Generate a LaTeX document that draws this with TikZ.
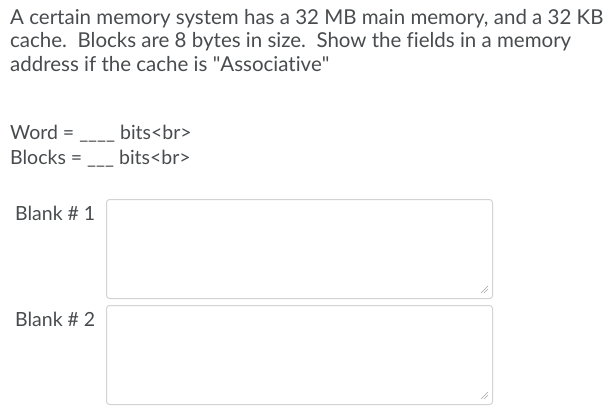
\documentclass[tikz,border=0pt]{standalone}
\usepackage{fontspec}
\setmainfont[Ligatures={NoCommon,TeX}]{Lato}
\definecolor{txt}{HTML}{494C4E}
\definecolor{bord}{HTML}{D3D3D3}
\begin{document}
\begin{tikzpicture}[x=1pt,y=-1pt,
  t/.style={anchor=base west,inner sep=0pt,text=txt,font=\fontsize{20.5}{24}\selectfont},
  s/.style={anchor=base west,inner sep=0pt,text=txt,font=\fontsize{19.5}{22}\selectfont},
  box/.style={draw=bord,line width=1pt,rounded corners=3pt}]
\useasboundingbox[fill=white] (0,0) rectangle (615,416);
\node[t] (l1) at (10,24) {A certain memory system has a 32 MB main memory, and a 32 KB};
\node[t] (l2) at (10,47.5) {cache.\ \ Blocks are 8 bytes in size.\ \ Show the fields in a memory};
\node[t] (l3) at (10,71) {address if the cache is \textquotedbl Associative\textquotedbl};
\node[s] (w) at (10,139) {Word = \_\_\_\_ bits<br>};
\node[s] (b) at (10,164) {Blocks = \_\_\_ bits<br>};
\node[s] (b1) at (15,220) {Blank \# 1};
\node[s] (b2) at (15,326) {Blank \# 2};
\draw[box] (106.5,199.5) rectangle (492.5,298.5);
\draw[box] (106.5,305.5) rectangle (492.5,404.5);
\foreach \y in {298,404}{
 \draw[gray!70,line width=0.5pt] (481,\y-5) -- (488,\y-12) (484,\y-5) -- (488,\y-9);}
\end{tikzpicture}
\end{document}
